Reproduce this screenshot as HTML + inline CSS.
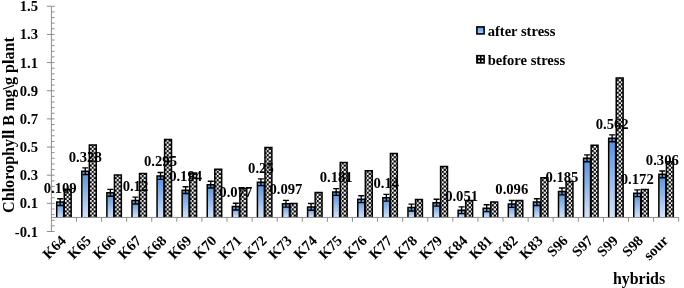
<!DOCTYPE html>
<html><head><meta charset="utf-8"><title>Chlorophyll B chart</title>
<style>html,body{margin:0;padding:0;background:#fff}svg{display:block}</style></head>
<body>
<svg width="684" height="288" viewBox="0 0 684 288">
<defs>
<linearGradient id="g" x1="0" y1="0" x2="0" y2="1"><stop offset="0" stop-color="#558ed5"/><stop offset="1" stop-color="#d6e4f7"/></linearGradient>
<linearGradient id="g2" x1="0" y1="0" x2="0" y2="1"><stop offset="0" stop-color="#5f96e0"/><stop offset="1" stop-color="#b4cff3"/></linearGradient>
<pattern id="c" width="4.1667" height="4.1667" patternUnits="userSpaceOnUse"><rect width="4.1667" height="4.1667" fill="#fff"/><rect x="-0.06" y="-0.06" width="2.2" height="2.2" fill="#000"/><rect x="2.02" y="2.02" width="2.2" height="2.2" fill="#000"/></pattern>
</defs>
<rect width="684" height="288" fill="#fff"/>
<g fill="url(#g)"><rect x="56.70" y="202.10" width="6.95" height="15.35"/><rect x="81.79" y="171.27" width="6.95" height="46.18"/><rect x="106.88" y="192.81" width="6.95" height="24.64"/><rect x="131.97" y="200.55" width="6.95" height="16.90"/><rect x="157.06" y="175.91" width="6.95" height="41.54"/><rect x="182.15" y="190.13" width="6.95" height="27.32"/><rect x="207.24" y="184.64" width="6.95" height="32.81"/><rect x="232.33" y="206.61" width="6.95" height="10.84"/><rect x="257.42" y="182.25" width="6.95" height="35.20"/><rect x="282.51" y="203.79" width="6.95" height="13.66"/><rect x="307.60" y="206.89" width="6.95" height="10.56"/><rect x="332.69" y="191.97" width="6.95" height="25.48"/><rect x="357.78" y="199.15" width="6.95" height="18.30"/><rect x="382.87" y="197.74" width="6.95" height="19.71"/><rect x="407.96" y="207.59" width="6.95" height="9.86"/><rect x="433.05" y="202.67" width="6.95" height="14.78"/><rect x="458.14" y="210.27" width="6.95" height="7.18"/><rect x="483.23" y="208.16" width="6.95" height="9.29"/><rect x="508.32" y="203.93" width="6.95" height="13.52"/><rect x="533.41" y="202.10" width="6.95" height="15.35"/><rect x="558.50" y="191.40" width="6.95" height="26.05"/><rect x="583.59" y="158.31" width="6.95" height="59.14"/><rect x="608.68" y="138.32" width="6.95" height="79.13"/><rect x="633.77" y="193.23" width="6.95" height="24.22"/><rect x="658.86" y="174.37" width="6.95" height="43.08"/></g>
<path fill="none" stroke="#000" stroke-width="1.5" d="M56.70 217.45V202.10h6.95V217.45M81.79 217.45V171.27h6.95V217.45M106.88 217.45V192.81h6.95V217.45M131.97 217.45V200.55h6.95V217.45M157.06 217.45V175.91h6.95V217.45M182.15 217.45V190.13h6.95V217.45M207.24 217.45V184.64h6.95V217.45M232.33 217.45V206.61h6.95V217.45M257.42 217.45V182.25h6.95V217.45M282.51 217.45V203.79h6.95V217.45M307.60 217.45V206.89h6.95V217.45M332.69 217.45V191.97h6.95V217.45M357.78 217.45V199.15h6.95V217.45M382.87 217.45V197.74h6.95V217.45M407.96 217.45V207.59h6.95V217.45M433.05 217.45V202.67h6.95V217.45M458.14 217.45V210.27h6.95V217.45M483.23 217.45V208.16h6.95V217.45M508.32 217.45V203.93h6.95V217.45M533.41 217.45V202.10h6.95V217.45M558.50 217.45V191.40h6.95V217.45M583.59 217.45V158.31h6.95V217.45M608.68 217.45V138.32h6.95V217.45M633.77 217.45V193.23h6.95V217.45M658.86 217.45V174.37h6.95V217.45"/>
<g fill="url(#c)"><rect x="64.25" y="189.29" width="6.9" height="28.16"/><rect x="89.34" y="145.08" width="6.9" height="72.37"/><rect x="114.43" y="175.07" width="6.9" height="42.38"/><rect x="139.52" y="173.52" width="6.9" height="43.93"/><rect x="164.61" y="139.59" width="6.9" height="77.86"/><rect x="189.70" y="173.10" width="6.9" height="44.35"/><rect x="214.79" y="169.30" width="6.9" height="48.15"/><rect x="239.88" y="188.45" width="6.9" height="29.00"/><rect x="264.97" y="147.61" width="6.9" height="69.84"/><rect x="290.06" y="203.51" width="6.9" height="13.94"/><rect x="315.15" y="192.39" width="6.9" height="25.06"/><rect x="340.24" y="162.54" width="6.9" height="54.91"/><rect x="365.33" y="170.85" width="6.9" height="46.60"/><rect x="390.42" y="153.53" width="6.9" height="63.92"/><rect x="415.51" y="199.43" width="6.9" height="18.02"/><rect x="440.60" y="166.62" width="6.9" height="50.83"/><rect x="465.69" y="200.55" width="6.9" height="16.90"/><rect x="490.78" y="201.96" width="6.9" height="15.49"/><rect x="515.87" y="200.55" width="6.9" height="16.90"/><rect x="540.96" y="177.74" width="6.9" height="39.71"/><rect x="566.05" y="181.55" width="6.9" height="35.90"/><rect x="591.14" y="145.22" width="6.9" height="72.23"/><rect x="616.23" y="77.92" width="6.9" height="139.53"/><rect x="641.32" y="189.57" width="6.9" height="27.88"/><rect x="666.41" y="161.83" width="6.9" height="55.62"/></g>
<path fill="none" stroke="#000" stroke-width="1.5" d="M64.25 217.45V189.29h6.9V217.45M89.34 217.45V145.08h6.9V217.45M114.43 217.45V175.07h6.9V217.45M139.52 217.45V173.52h6.9V217.45M164.61 217.45V139.59h6.9V217.45M189.70 217.45V173.10h6.9V217.45M214.79 217.45V169.30h6.9V217.45M239.88 217.45V188.45h6.9V217.45M264.97 217.45V147.61h6.9V217.45M290.06 217.45V203.51h6.9V217.45M315.15 217.45V192.39h6.9V217.45M340.24 217.45V162.54h6.9V217.45M365.33 217.45V170.85h6.9V217.45M390.42 217.45V153.53h6.9V217.45M415.51 217.45V199.43h6.9V217.45M440.60 217.45V166.62h6.9V217.45M465.69 217.45V200.55h6.9V217.45M490.78 217.45V201.96h6.9V217.45M515.87 217.45V200.55h6.9V217.45M540.96 217.45V177.74h6.9V217.45M566.05 217.45V181.55h6.9V217.45M591.14 217.45V145.22h6.9V217.45M616.23 217.45V77.92h6.9V217.45M641.32 217.45V189.57h6.9V217.45M666.41 217.45V161.83h6.9V217.45"/>
<g stroke="#8e8e8e" stroke-width="1" fill="none"><line x1="51.4" y1="6.25" x2="51.4" y2="231.53"/><line x1="51.4" y1="217.45" x2="678.65" y2="217.45"/><line x1="46.9" y1="231.53" x2="54.6" y2="231.53"/><line x1="51.4" y1="225.90" x2="54.6" y2="225.90"/><line x1="51.4" y1="220.27" x2="54.6" y2="220.27"/><line x1="51.4" y1="214.63" x2="54.6" y2="214.63"/><line x1="51.4" y1="209.00" x2="54.6" y2="209.00"/><line x1="46.9" y1="203.37" x2="54.6" y2="203.37"/><line x1="51.4" y1="197.74" x2="54.6" y2="197.74"/><line x1="51.4" y1="192.11" x2="54.6" y2="192.11"/><line x1="51.4" y1="186.47" x2="54.6" y2="186.47"/><line x1="51.4" y1="180.84" x2="54.6" y2="180.84"/><line x1="46.9" y1="175.21" x2="54.6" y2="175.21"/><line x1="51.4" y1="169.58" x2="54.6" y2="169.58"/><line x1="51.4" y1="163.95" x2="54.6" y2="163.95"/><line x1="51.4" y1="158.31" x2="54.6" y2="158.31"/><line x1="51.4" y1="152.68" x2="54.6" y2="152.68"/><line x1="46.9" y1="147.05" x2="54.6" y2="147.05"/><line x1="51.4" y1="141.42" x2="54.6" y2="141.42"/><line x1="51.4" y1="135.79" x2="54.6" y2="135.79"/><line x1="51.4" y1="130.15" x2="54.6" y2="130.15"/><line x1="51.4" y1="124.52" x2="54.6" y2="124.52"/><line x1="46.9" y1="118.89" x2="54.6" y2="118.89"/><line x1="51.4" y1="113.26" x2="54.6" y2="113.26"/><line x1="51.4" y1="107.63" x2="54.6" y2="107.63"/><line x1="51.4" y1="101.99" x2="54.6" y2="101.99"/><line x1="51.4" y1="96.36" x2="54.6" y2="96.36"/><line x1="46.9" y1="90.73" x2="54.6" y2="90.73"/><line x1="51.4" y1="85.10" x2="54.6" y2="85.10"/><line x1="51.4" y1="79.47" x2="54.6" y2="79.47"/><line x1="51.4" y1="73.83" x2="54.6" y2="73.83"/><line x1="51.4" y1="68.20" x2="54.6" y2="68.20"/><line x1="46.9" y1="62.57" x2="54.6" y2="62.57"/><line x1="51.4" y1="56.94" x2="54.6" y2="56.94"/><line x1="51.4" y1="51.31" x2="54.6" y2="51.31"/><line x1="51.4" y1="45.67" x2="54.6" y2="45.67"/><line x1="51.4" y1="40.04" x2="54.6" y2="40.04"/><line x1="46.9" y1="34.41" x2="54.6" y2="34.41"/><line x1="51.4" y1="28.78" x2="54.6" y2="28.78"/><line x1="51.4" y1="23.15" x2="54.6" y2="23.15"/><line x1="51.4" y1="17.51" x2="54.6" y2="17.51"/><line x1="51.4" y1="11.88" x2="54.6" y2="11.88"/><line x1="46.9" y1="6.25" x2="54.6" y2="6.25"/><line x1="76.49" y1="217.45" x2="76.49" y2="221.75"/><line x1="101.58" y1="217.45" x2="101.58" y2="221.75"/><line x1="126.67" y1="217.45" x2="126.67" y2="221.75"/><line x1="151.76" y1="217.45" x2="151.76" y2="221.75"/><line x1="176.85" y1="217.45" x2="176.85" y2="221.75"/><line x1="201.94" y1="217.45" x2="201.94" y2="221.75"/><line x1="227.03" y1="217.45" x2="227.03" y2="221.75"/><line x1="252.12" y1="217.45" x2="252.12" y2="221.75"/><line x1="277.21" y1="217.45" x2="277.21" y2="221.75"/><line x1="302.30" y1="217.45" x2="302.30" y2="221.75"/><line x1="327.39" y1="217.45" x2="327.39" y2="221.75"/><line x1="352.48" y1="217.45" x2="352.48" y2="221.75"/><line x1="377.57" y1="217.45" x2="377.57" y2="221.75"/><line x1="402.66" y1="217.45" x2="402.66" y2="221.75"/><line x1="427.75" y1="217.45" x2="427.75" y2="221.75"/><line x1="452.84" y1="217.45" x2="452.84" y2="221.75"/><line x1="477.93" y1="217.45" x2="477.93" y2="221.75"/><line x1="503.02" y1="217.45" x2="503.02" y2="221.75"/><line x1="528.11" y1="217.45" x2="528.11" y2="221.75"/><line x1="553.20" y1="217.45" x2="553.20" y2="221.75"/><line x1="578.29" y1="217.45" x2="578.29" y2="221.75"/><line x1="603.38" y1="217.45" x2="603.38" y2="221.75"/><line x1="628.47" y1="217.45" x2="628.47" y2="221.75"/><line x1="653.56" y1="217.45" x2="653.56" y2="221.75"/><line x1="678.65" y1="217.45" x2="678.65" y2="221.75"/></g>
<g fill="none" stroke="#000" stroke-width="1.35"><path d="M60.17 198.70V205.50M57.17 198.70h6M57.17 205.50h6"/><path d="M85.26 167.87V174.67M82.26 167.87h6M82.26 174.67h6"/><path d="M110.35 189.41V196.21M107.35 189.41h6M107.35 196.21h6"/><path d="M135.44 197.15V203.95M132.44 197.15h6M132.44 203.95h6"/><path d="M160.53 172.51V179.31M157.53 172.51h6M157.53 179.31h6"/><path d="M185.62 186.73V193.53M182.62 186.73h6M182.62 193.53h6"/><path d="M210.72 181.24V188.04M207.72 181.24h6M207.72 188.04h6"/><path d="M235.81 203.21V210.01M232.81 203.21h6M232.81 210.01h6"/><path d="M260.90 178.85V185.65M257.90 178.85h6M257.90 185.65h6"/><path d="M285.99 200.39V207.19M282.99 200.39h6M282.99 207.19h6"/><path d="M311.08 203.49V210.29M308.08 203.49h6M308.08 210.29h6"/><path d="M336.17 188.57V195.37M333.17 188.57h6M333.17 195.37h6"/><path d="M361.25 195.75V202.55M358.25 195.75h6M358.25 202.55h6"/><path d="M386.35 194.34V201.14M383.35 194.34h6M383.35 201.14h6"/><path d="M411.44 204.19V210.99M408.44 204.19h6M408.44 210.99h6"/><path d="M436.53 199.27V206.07M433.53 199.27h6M433.53 206.07h6"/><path d="M461.62 206.87V213.67M458.62 206.87h6M458.62 213.67h6"/><path d="M486.70 204.76V211.56M483.70 204.76h6M483.70 211.56h6"/><path d="M511.80 200.53V207.33M508.80 200.53h6M508.80 207.33h6"/><path d="M536.88 198.70V205.50M533.88 198.70h6M533.88 205.50h6"/><path d="M561.98 188.00V194.80M558.98 188.00h6M558.98 194.80h6"/><path d="M587.06 154.91V161.71M584.06 154.91h6M584.06 161.71h6"/><path d="M612.15 134.92V141.72M609.15 134.92h6M609.15 141.72h6"/><path d="M637.25 189.83V196.63M634.25 189.83h6M634.25 196.63h6"/><path d="M662.33 170.97V177.77M659.33 170.97h6M659.33 177.77h6"/></g>
<g font-family="Liberation Serif, Times New Roman, serif" font-weight="bold" fill="#000" font-size="14.65" text-anchor="middle"><text x="60.17" y="192.50">0.109</text><text x="85.26" y="161.67">0.328</text><text x="135.44" y="190.95">0.12</text><text x="160.53" y="166.31">0.295</text><text x="185.62" y="180.53">0.194</text><text x="235.81" y="197.01">0.077</text><text x="260.90" y="172.65">0.25</text><text x="285.99" y="194.19">0.097</text><text x="336.17" y="182.37">0.181</text><text x="386.35" y="188.14">0.14</text><text x="461.62" y="200.67">0.051</text><text x="511.80" y="194.33">0.096</text><text x="561.98" y="181.80">0.185</text><text x="612.15" y="128.72">0.562</text><text x="637.25" y="183.63">0.172</text><text x="662.33" y="164.77">0.306</text></g>
<g font-family="Liberation Serif, Times New Roman, serif" font-weight="bold" fill="#000" font-size="14.65" text-anchor="end"><text x="38.0" y="236.53">-0.1</text><text x="38.0" y="208.37">0.1</text><text x="38.0" y="180.21">0.3</text><text x="38.0" y="152.05">0.5</text><text x="38.0" y="123.89">0.7</text><text x="38.0" y="95.73">0.9</text><text x="38.0" y="67.57">1.1</text><text x="38.0" y="39.41">1.3</text><text x="38.0" y="11.25">1.5</text></g>
<g font-family="Liberation Serif, Times New Roman, serif" font-weight="bold" fill="#000" font-size="14.65" text-anchor="end"><text transform="translate(66.94 241.5) rotate(-45)">K64</text><text transform="translate(92.03 241.5) rotate(-45)">K65</text><text transform="translate(117.12 241.5) rotate(-45)">K66</text><text transform="translate(142.22 241.5) rotate(-45)">K67</text><text transform="translate(167.31 241.5) rotate(-45)">K68</text><text transform="translate(192.40 241.5) rotate(-45)">K69</text><text transform="translate(217.49 241.5) rotate(-45)">K70</text><text transform="translate(242.58 241.5) rotate(-45)">K71</text><text transform="translate(267.66 241.5) rotate(-45)">K72</text><text transform="translate(292.75 241.5) rotate(-45)">K73</text><text transform="translate(317.84 241.5) rotate(-45)">K74</text><text transform="translate(342.94 241.5) rotate(-45)">K75</text><text transform="translate(368.02 241.5) rotate(-45)">K76</text><text transform="translate(393.11 241.5) rotate(-45)">K77</text><text transform="translate(418.20 241.5) rotate(-45)">K78</text><text transform="translate(443.29 241.5) rotate(-45)">K79</text><text transform="translate(468.38 241.5) rotate(-45)">K84</text><text transform="translate(493.47 241.5) rotate(-45)">K81</text><text transform="translate(518.57 241.5) rotate(-45)">K82</text><text transform="translate(543.65 241.5) rotate(-45)">K83</text><text transform="translate(568.75 241.5) rotate(-45)">S96</text><text transform="translate(593.83 241.5) rotate(-45)">S97</text><text transform="translate(618.92 241.5) rotate(-45)">S99</text><text transform="translate(644.01 241.5) rotate(-45)">S98</text><text transform="translate(669.11 241.5) rotate(-45)">sour</text></g>
<text font-family="Liberation Serif, Times New Roman, serif" font-weight="bold" fill="#000" font-size="15.95" x="612.9" y="284.0">hybrids</text>
<text font-family="Liberation Serif, Times New Roman, serif" font-weight="bold" fill="#000" font-size="16.15" transform="translate(14.2 213.0) rotate(-90)">Chlorophyll B mg\g plant</text>
<rect x="476.9" y="26.9" width="7.2" height="7.0" fill="url(#g2)" stroke="#000" stroke-width="1.6"/>
<rect x="476.9" y="55.7" width="7.2" height="7.2" fill="#000" stroke="#000" stroke-width="1.6"/>
<path d="M478.2 56.5h1.7v1.7h-1.7zM481.6 56.5h1.7v1.7h-1.7zM478.2 60.2h1.7v1.7h-1.7zM481.6 60.2h1.7v1.7h-1.7z" fill="#fff"/>
<text font-family="Liberation Serif, Times New Roman, serif" font-weight="bold" fill="#000" font-size="14.55" x="487.7" y="35.6">after stress</text>
<text font-family="Liberation Serif, Times New Roman, serif" font-weight="bold" fill="#000" font-size="14.55" x="487.7" y="64.7">before stress</text>
</svg>
</body></html>
